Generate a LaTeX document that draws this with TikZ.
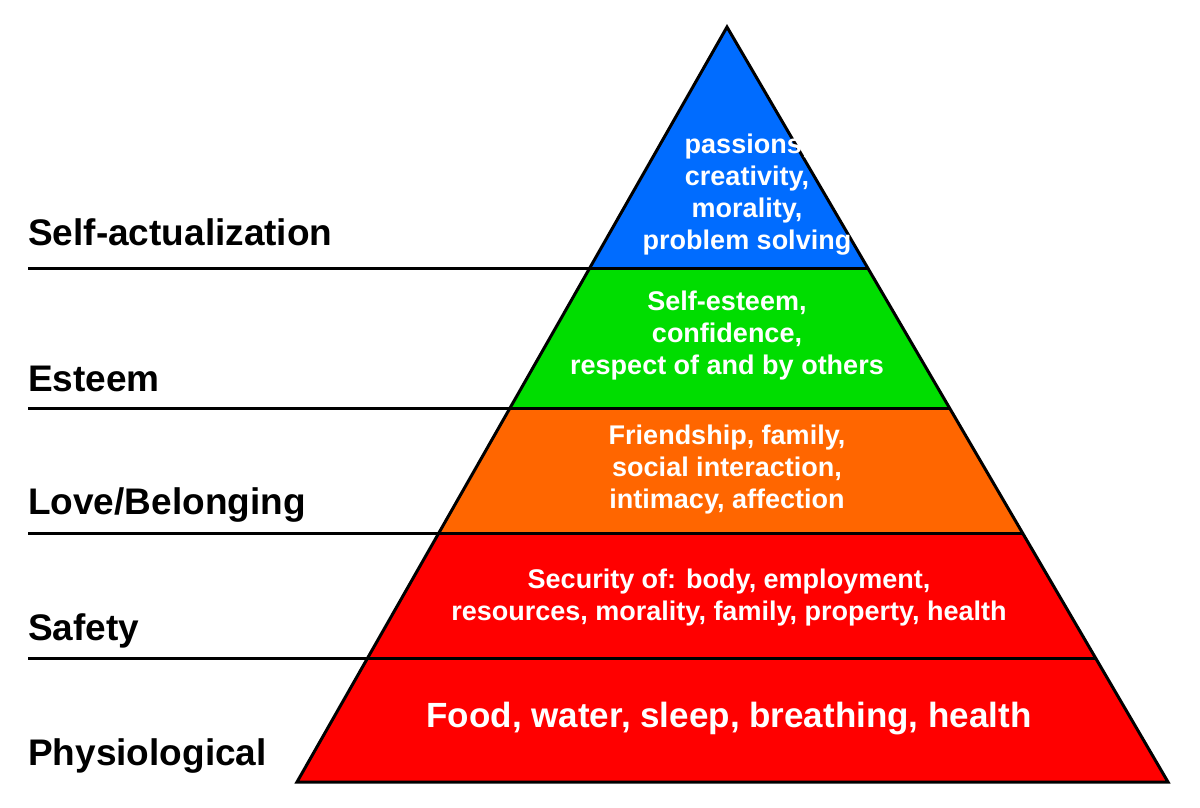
\documentclass[tikz,border=0pt]{standalone}
\usepackage{fontspec}
\setmainfont{Liberation Sans}
\begin{document}
\begin{tikzpicture}[x=1pt,y=-1pt,
  lvl/.style={font=\fontsize{37}{40}\selectfont\bfseries,anchor=base west,inner sep=0},
  inner/.style={font=\fontsize{27}{32}\selectfont\bfseries,text=white,align=center,inner sep=0},
  band/.style={draw=black,line width=3pt,line join=miter}]
\definecolor{cblue}{RGB}{0,108,255}
\definecolor{cgreen}{RGB}{0,221,0}
\definecolor{corange}{RGB}{255,102,0}
\definecolor{cred}{RGB}{255,0,0}
\useasboundingbox (0,0) rectangle (1200,808);
\coordinate (apex) at (727,27);
\coordinate (l1) at (590,268); \coordinate (r1) at (868,268);
\coordinate (l2) at (510,408); \coordinate (r2) at (949,408);
\coordinate (l3) at (439,533); \coordinate (r3) at (1022,533);
\coordinate (l4) at (368,658); \coordinate (r4) at (1096,658);
\coordinate (l5) at (297,782); \coordinate (r5) at (1168,782);
\fill[cblue] (apex) -- (r1) -- (l1) -- cycle;
\fill[cgreen] (l1) -- (r1) -- (r2) -- (l2) -- cycle;
\fill[corange] (l2) -- (r2) -- (r3) -- (l3) -- cycle;
\fill[cred] (l3) -- (r3) -- (r4) -- (l4) -- cycle;
\fill[cred] (l4) -- (r4) -- (r5) -- (l5) -- cycle;
\draw[band] (apex) -- (r5) -- (l5) -- cycle;
\coordinate (e1) at (28,268); \coordinate (e2) at (28,408);
\coordinate (e3) at (28,533); \coordinate (e4) at (28,658);
\draw[band] (e1) -- (r1); \draw[band] (e2) -- (r2);
\draw[band] (e3) -- (r3); \draw[band] (e4) -- (r4);
\node[lvl] (t1) at (28,245) {Self-actualization};
\node[lvl] (t2) at (28,391) {Esteem};
\node[lvl] (t3) at (28,514) {Love/Belonging};
\node[lvl] (t4) at (28,640) {Safety};
\node[lvl] (t5) at (28,765) {Physiological};
\node[inner] (i1) at (747,195) {passions,\\creativity,\\morality,\\problem solving};
\node[inner] (i2) at (727,336) {Self-esteem,\\confidence,\\respect of and by others};
\node[inner] (i3) at (727,470) {Friendship, family,\\social interaction,\\intimacy, affection};
\node[inner] (i4) at (729,598) {Security of: body, employment,\\resources, morality, family, property, health};
\node[inner,font=\fontsize{35}{40}\selectfont\bfseries] (i5) at (729,719) {Food, water, sleep, breathing, health};
\end{tikzpicture}
\end{document}
